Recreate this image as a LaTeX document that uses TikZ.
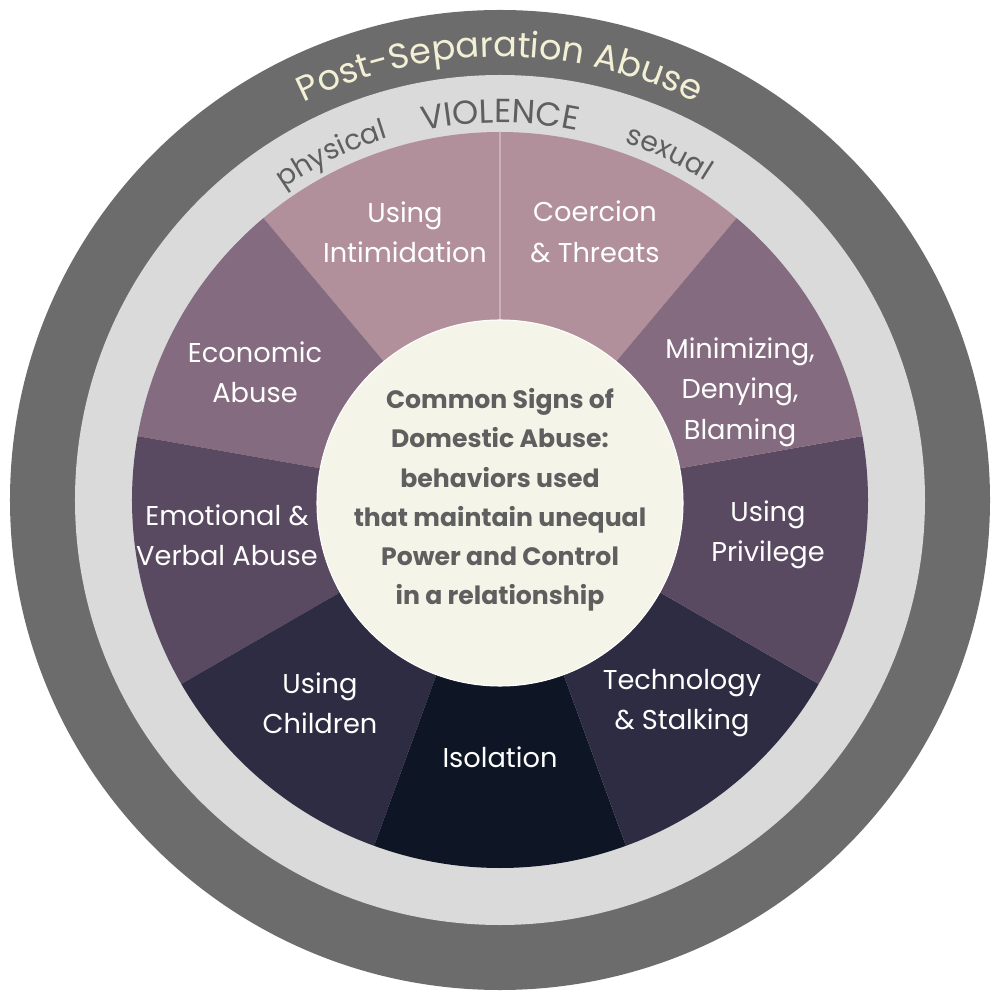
\documentclass[tikz,border=0pt]{standalone}
\usepackage{fontspec}
\setmainfont{Poppins}
\usetikzlibrary{decorations.text}
\definecolor{ring}{HTML}{6C6C6C}
\definecolor{light}{HTML}{DADADA}
\definecolor{cA}{HTML}{B1909C}
\definecolor{cB}{HTML}{846B7F}
\definecolor{cC}{HTML}{594A62}
\definecolor{cD}{HTML}{2E2C42}
\definecolor{cE}{HTML}{0E1626}
\definecolor{cream}{HTML}{F4F4E9}
\definecolor{creamtxt}{HTML}{F3F0D6}
\definecolor{gtxt}{HTML}{5F5F5F}
\begin{document}
\begin{tikzpicture}[x=0.02cm,y=0.02cm,
  lab/.style={text=white,align=center,font=\fontsize{15.5}{23}\selectfont},
  arctxt/.style={decorate,decoration={text along path,text align=center,text={#1}}}]
\useasboundingbox (-500,-500) rectangle (500,500);
\fill[ring] (0,0) circle (490);
\fill[light] (0,0) circle (425);
\foreach \a/\c in {50/cA,90/cA,130/cB,170/cC,210/cD,250/cE,290/cD,330/cC,10/cB}{
  \fill[\c] (0,0) -- (\a:368) arc (\a:\a+40:368) -- cycle;}
\draw[cA!70!white,line width=0.6pt] (0,0) -- (90:368);
\node[circle,fill=cream,draw=white,line width=0.6pt,minimum size=366*0.02cm,inner sep=0] (c) at (0,-3) {};
\node[text=gtxt,align=center,font=\bfseries\fontsize{14.3}{22.3}\selectfont] (ct) at (0,0) {Common Signs of\\Domestic Abuse:\\behaviors used\\that maintain unequal\\Power and Control\\in a relationship};
\node[lab] (n1) at (-95,268) {Using\\Intimidation};
\node[lab] (n2) at (95,268) {Coercion\\\& Threats};
\node[lab] (n3) at (-245,128) {Economic\\Abuse};
\node[lab] (n4) at (240,108) {Minimizing,\\Denying,\\Blaming};
\node[lab] (n5) at (-273,-35) {Emotional \&\\Verbal Abuse};
\node[lab] (n6) at (268,-35) {Using\\Privilege};
\node[lab] (n7) at (-180,-203) {Using\\Children};
\node[lab] (n8) at (182,-203) {Technology\\\& Stalking};
\node[lab] (n9) at (0,-257) {Isolation};
\path[arctxt={|\color{creamtxt}\fontsize{20}{20}\selectfont|Post-Separation Abuse}] (150:443) arc (150:30:443);
\path[arctxt={|\color{gtxt}\fontsize{19}{16}\selectfont|VIOLENCE}] (110:377) arc (110:70:377);
\path[arctxt={|\color{gtxt}\fontsize{16}{16}\selectfont|physical}] (140:379) arc (140:92:379);
\path[arctxt={|\color{gtxt}\fontsize{16}{16}\selectfont|sexual}] (88:379) arc (88:40:379);
\end{tikzpicture}
\end{document}
